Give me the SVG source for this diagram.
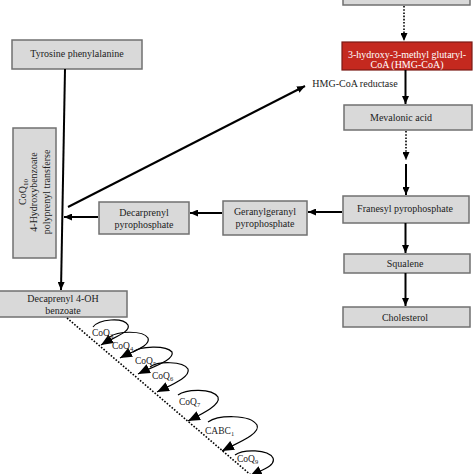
<svg xmlns="http://www.w3.org/2000/svg" width="474" height="474" viewBox="0 0 474 474">
<style>
.box{fill:#d9d9d9;stroke:#707070;stroke-width:1.5}
.red{fill:#c4291f;stroke:#7a1a14;stroke-width:1.2}
.t{font-family:"Liberation Serif","Times New Roman",serif;font-size:10px;fill:#222;text-anchor:middle}
.w{fill:#ffffff}
.lbl{font-family:"Liberation Serif","Times New Roman",serif;font-size:9.5px;fill:#222}
.ln{stroke:#000;stroke-width:2;fill:none}
.dot{stroke:#000;stroke-width:1.6;fill:none;stroke-dasharray:1.6,1.6}
.loop{stroke:#000;stroke-width:1.2;fill:none}
</style>
<defs>
<marker id="ah" markerUnits="userSpaceOnUse" markerWidth="8" markerHeight="7" refX="8" refY="3.5" orient="auto"><path d="M0,0 L8,3.5 L0,7 z" fill="#000"/></marker>
<marker id="big" markerUnits="userSpaceOnUse" markerWidth="12" markerHeight="10" refX="12" refY="5" orient="auto"><path d="M0,0 L12,5 L0,10 z" fill="#000"/></marker>
</defs>
<rect width="474" height="474" fill="#fff"/>

<g id="top-box"><rect class="box" x="343" y="-6" width="127" height="11"/></g>
<g id="hmgcoa"><rect class="red" x="342" y="42" width="130" height="28"/>
<text class="t w" x="407" y="57.5">3-hydroxy-3-methyl glutaryl-</text>
<text class="t w" x="407" y="67.5">CoA (HMG-CoA)</text></g>
<g id="reductase"><text class="t" x="355" y="87">HMG-CoA reductase</text></g>
<g id="mevalonic"><rect class="box" x="344" y="105" width="128" height="25"/><text class="t" x="401" y="121">Mevalonic acid</text></g>
<g id="franesyl"><rect class="box" x="343" y="196" width="126" height="27"/><text class="t" x="405" y="212">Franesyl pyrophosphate</text></g>
<g id="squalene"><rect class="box" x="344" y="254" width="126" height="19"/><text class="t" x="405" y="266.5">Squalene</text></g>
<g id="cholesterol"><rect class="box" x="343" y="307" width="127" height="20"/><text class="t" x="405" y="320.5">Cholesterol</text></g>
<g id="geranylgeranyl"><rect class="box" x="223" y="201" width="84" height="34"/>
<text class="t" x="265" y="214.5">Geranylgeranyl</text><text class="t" x="265" y="226.5">pyrophosphate</text></g>
<g id="decarprenyl-pp"><rect class="box" x="99" y="202" width="90" height="32"/>
<text class="t" x="144" y="215.5">Decarprenyl</text><text class="t" x="144" y="227.5">pyrophosphate</text></g>
<g id="tyrosine"><rect class="box" x="12" y="40" width="130" height="29"/><text class="t" x="77" y="57">Tyrosine phenylalanine</text></g>
<g id="transferase"><rect class="box" x="13" y="128" width="43" height="130"/>
<text class="t" transform="translate(25.5,192) rotate(-90)">CoQ<tspan font-size="7" dy="2">10</tspan></text>
<text class="t" transform="translate(37,192) rotate(-90)">4-Hydroxybenzoate</text>
<text class="t" transform="translate(49.5,192) rotate(-90)">polyprenyl transferse</text></g>
<g id="decaprenyl-benzoate"><rect class="box" x="-2" y="291" width="129" height="26"/>
<text class="t" x="63" y="301.5">Decaprenyl 4-OH</text><text class="t" x="63" y="313.5">benzoate</text></g>

<g id="connectors">
<line class="dot" x1="404" y1="6" x2="404" y2="41" marker-end="url(#ah)"/>
<line class="ln" x1="405.5" y1="70" x2="405.5" y2="104" marker-end="url(#ah)"/>
<line class="dot" x1="406" y1="131" x2="406" y2="160" marker-end="url(#ah)"/>
<line class="ln" x1="406" y1="164" x2="406" y2="195" marker-end="url(#ah)"/>
<line class="ln" x1="405.5" y1="223" x2="405.5" y2="253" marker-end="url(#ah)"/>
<line class="ln" x1="405.5" y1="273" x2="405.5" y2="306" marker-end="url(#ah)"/>
<line class="ln" x1="342" y1="212" x2="308" y2="212" marker-end="url(#ah)"/>
<line class="ln" x1="222" y1="213" x2="190" y2="213" marker-end="url(#ah)"/>
<line class="ln" x1="98" y1="217" x2="64" y2="217" marker-end="url(#ah)"/>
<line class="ln" x1="65" y1="69" x2="61" y2="290" marker-end="url(#ah)"/>
<line class="ln" x1="68" y1="207" x2="305" y2="86" marker-end="url(#ah)"/>
<line class="dot" x1="67" y1="318" x2="252" y2="476"/>
</g>

<g id="loops">
<path class="loop" d="M93,327 C99,319 123,317 128,325 C131,332 114,337 101,345" marker-end="url(#big)"/>
<path class="loop" d="M110,337 C117,331 143,330 148,338 C151,346 133,351 120,358" marker-end="url(#big)"/>
<path class="loop" d="M133,352 C140,346 166,345 172,352 C175,360 152,367 138,374" marker-end="url(#big)"/>
<path class="loop" d="M150,367 C158,361 183,361 188,369 C191,377 171,385 157,392" marker-end="url(#big)"/>
<path class="loop" d="M178,395 C186,389 212,388 218,397 C221,405 202,414 188,421" marker-end="url(#big)"/>
<path class="loop" d="M208,422 C218,415 250,414 257,425 C261,434 237,443 222,451" marker-end="url(#big)"/>
<path class="loop" d="M235,455 C243,449 268,449 273,458 C276,466 262,470 250,476" marker-end="url(#big)"/>
</g>
<g id="labels">
<text class="lbl" x="92" y="335.5">CoQ<tspan font-size="6.5" dy="2">3</tspan></text>
<text class="lbl" x="112" y="348.5">CoQ<tspan font-size="6.5" dy="2">4</tspan></text>
<text class="lbl" x="135" y="363.5">CoQ<tspan font-size="6.5" dy="2">5</tspan></text>
<text class="lbl" x="152" y="378.5">CoQ<tspan font-size="6.5" dy="2">6</tspan></text>
<text class="lbl" x="179" y="404.5">CoQ<tspan font-size="6.5" dy="2">7</tspan></text>
<text class="lbl" x="205" y="433.5">CABC<tspan font-size="6.5" dy="2">1</tspan></text>
<text class="lbl" x="237" y="461.5">CoQ<tspan font-size="6.5" dy="2">9</tspan></text>
</g>
</svg>
